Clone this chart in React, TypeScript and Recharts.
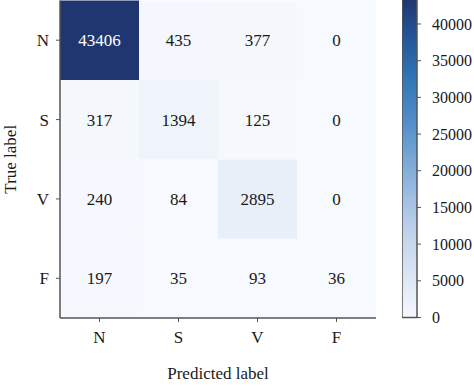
import React from 'react';
import { BarChart, Bar, Cell, XAxis, YAxis, LabelList } from 'recharts';

// rows = true label, columns = predicted label
const CLASSES = ['N', 'S', 'V', 'F'];
const ROW_N = [43406, 435, 377, 0];
const ROW_S = [317, 1394, 125, 0];
const ROW_V = [240, 84, 2895, 0];
const ROW_F = [197, 35, 93, 36];
const ROWS = [ROW_N, ROW_S, ROW_V, ROW_F];
const CB_TICKS = [0, 5000, 10000, 15000, 20000, 25000, 30000, 35000, 40000];

const MAX = Math.max(...ROWS.flat());
const FONT = '"Liberation Serif", "Times New Roman", serif';
const SPINE = '#555';

// Blues-like colormap, toned to the printed figure
const BLUES = ['#f6f9fe', '#dce6f4', '#c4d5ec', '#a0bfe3', '#78a6d6', '#4f8cc8', '#3176b6', '#24579a', '#1f3670'];

const hexToRgb = (h: string) => [1, 3, 5].map(i => parseInt(h.slice(i, i + 2), 16));
const blues = (t: number) => {
  const p = Math.min(Math.max(t, 0), 1) * (BLUES.length - 1);
  const i = Math.min(Math.floor(p), BLUES.length - 2);
  const f = p - i;
  const a = hexToRgb(BLUES[i]);
  const b = hexToRgb(BLUES[i + 1]);
  const c = a.map((v, k) => Math.round(v + (b[k] - v) * f));
  return `rgb(${c[0]},${c[1]},${c[2]})`;
};

// one entry per predicted column; each true-label row is a unit segment of the stack
const data = CLASSES.map((pred, c) => {
  const entry: Record<string, string | number> = { pred };
  CLASSES.forEach((t, r) => {
    entry[`u${t}`] = 1;
    entry[`v${t}`] = ROWS[r][c];
  });
  return entry;
});

const renderCellLabel = (props: any) => {
  const { x, y, width, height, value } = props;
  return (
    <text
      x={x + width / 2}
      y={y + height / 2}
      dy="0.35em"
      textAnchor="middle"
      fontFamily={FONT}
      fontSize={17}
      fill={value > MAX / 2 ? '#ffffff' : '#1a1a1a'}
    >
      {value}
    </text>
  );
};

const tickStyle = { fontFamily: FONT, fontSize: 17, fill: '#1a1a1a' };

const App = () => {
  // bottom of the stack first: F, V, S, N
  const stackOrder = [...CLASSES].reverse();
  return (
    <div style={{ position: 'fixed', left: 0, top: 0, width: 474, height: 386, background: '#fff', overflow: 'hidden', fontFamily: FONT }}>
      <style>{`.recharts-text, .recharts-label { font-family: ${FONT}; }`}</style>
      <div style={{ position: 'absolute', left: 0, top: 0 }}>
        <BarChart
          width={474}
          height={386}
          data={data}
          margin={{ top: 0.5, right: 98, bottom: 0, left: 0 }}
          barCategoryGap={0}
          barGap={0}
        >
          <XAxis
            dataKey="pred"
            height={68}
            tickSize={4}
            tickMargin={9}
            tick={tickStyle}
            axisLine={{ stroke: SPINE, strokeWidth: 1.5 }}
            tickLine={{ stroke: SPINE }}
            label={{ value: 'Predicted label', position: 'insideBottom', offset: 7, style: { ...tickStyle, textAnchor: 'middle' } }}
          />
          <XAxis xAxisId="top" dataKey="pred" orientation="top" height={0} tick={false} tickLine={false} axisLine={{ stroke: SPINE, strokeWidth: 1.5 }} />
          <YAxis
            type="number"
            domain={[0, 4]}
            ticks={[0.5, 1.5, 2.5, 3.5]}
            tickFormatter={(v: number) => stackOrder[Math.floor(v)]}
            width={60}
            tickSize={4}
            tickMargin={7}
            tick={tickStyle}
            axisLine={{ stroke: SPINE, strokeWidth: 1.5 }}
            tickLine={{ stroke: SPINE }}
            label={{ value: 'True label', angle: -90, position: 'insideLeft', offset: 10, style: { ...tickStyle, textAnchor: 'middle' } }}
          />
          <YAxis yAxisId="right" orientation="right" type="number" domain={[0, 4]} width={0} tick={false} tickLine={false} axisLine={{ stroke: SPINE, strokeWidth: 1.5 }} />
          {stackOrder.map(t => {
            const r = CLASSES.indexOf(t);
            return (
              <Bar key={t} dataKey={`u${t}`} stackId="cm" isAnimationActive={false}>
                {CLASSES.map((_, c) => (
                  <Cell key={c} fill={blues(ROWS[r][c] / MAX)} />
                ))}
                <LabelList dataKey={`v${t}`} content={renderCellLabel} />
              </Bar>
            );
          })}
        </BarChart>
      </div>
      <div style={{ position: 'absolute', left: 402, top: -2 }}>
        <BarChart
          width={72}
          height={388}
          data={[{ name: 'scale', value: MAX }]}
          margin={{ top: 1, right: 0, bottom: 68.5, left: 0 }}
          barCategoryGap={0}
        >
          <defs>
            <linearGradient id="cbBlues" x1="0" y1="1" x2="0" y2="0">
              {BLUES.map((col, i) => (
                <stop key={i} offset={`${(i / (BLUES.length - 1)) * 100}%`} stopColor={col} />
              ))}
            </linearGradient>
          </defs>
          <XAxis dataKey="name" hide />
          <YAxis
            orientation="right"
            type="number"
            domain={[0, MAX]}
            ticks={CB_TICKS}
            width={57}
            tickSize={4}
            tickMargin={11}
            tick={{ ...tickStyle, fontSize: 16, textAnchor: 'start' }}
            axisLine={false}
            tickLine={{ stroke: SPINE }}
          />
          <Bar dataKey="value" fill="url(#cbBlues)" stroke={SPINE} strokeWidth={1.5} isAnimationActive={false} />
        </BarChart>
      </div>
    </div>
  );
};

export default App;
